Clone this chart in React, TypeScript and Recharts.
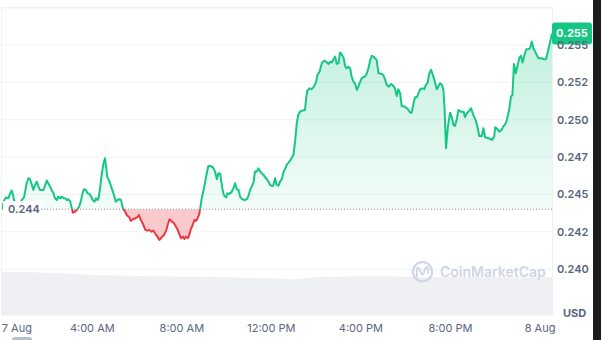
import {
  ComposedChart,
  Area,
  XAxis,
  YAxis,
  CartesianGrid,
  ReferenceLine,
  ReferenceDot,
} from 'recharts'

// minutes since 7 Aug 00:00
const minutes = [
  -2, 4, 9, 15, 20, 24, 27, 30, 37, 44,
  51, 57, 64, 69, 73, 78, 82, 87, 91, 96,
  100, 109, 114, 118, 122, 127, 131, 136, 140, 145,
  149, 154, 158, 163, 167, 172, 176, 181, 185, 188,
  194, 200, 205, 209, 215, 218, 223, 227, 232, 237,
  241, 246, 250, 254, 257, 261, 265, 270, 274, 277,
  280, 286, 292, 298, 303, 307, 313, 317, 322, 328,
  332, 339, 343, 349, 355, 361, 365, 370, 375, 382,
  388, 393, 399, 404, 408, 413, 420, 426, 432, 438,
  442, 447, 453, 459, 465, 469, 473, 478, 483, 487,
  491, 496, 500, 504, 509, 514, 518, 522, 526, 529,
  533, 540, 545, 551, 556, 563, 569, 574, 578, 583,
  585, 590, 594, 599, 602, 607, 614, 618, 623, 627,
  632, 636, 641, 648, 654, 658, 663, 667, 672, 676,
  681, 685, 690, 694, 699, 703, 708, 712, 716, 721,
  725, 730, 734, 739, 743, 748, 752, 757, 761, 766,
  770, 775, 779, 784, 788, 792, 797, 804, 810, 813,
  816, 822, 828, 834, 840, 843, 849, 855, 861, 867,
  873, 877, 882, 886, 891, 895, 900, 904, 909, 913,
  918, 922, 926, 931, 935, 940, 944, 949, 953, 958,
  962, 967, 971, 976, 980, 985, 989, 993, 998, 1002,
  1007, 1011, 1016, 1020, 1025, 1029, 1035, 1041, 1047, 1051,
  1056, 1060, 1065, 1069, 1078, 1086, 1092, 1096, 1101, 1105,
  1110, 1114, 1119, 1125, 1130, 1134, 1139, 1143, 1148, 1151,
  1157, 1163, 1168, 1172, 1177, 1181, 1184, 1188, 1193, 1199,
  1203, 1208, 1212, 1217, 1221, 1228, 1235, 1239, 1244, 1250,
  1255, 1261, 1268, 1273, 1277, 1284, 1288, 1293, 1302, 1311,
  1317, 1320, 1326, 1331, 1337, 1342, 1346, 1351, 1358, 1362,
  1366, 1370, 1375, 1379, 1385, 1389, 1393, 1398, 1403, 1409,
  1413, 1418, 1422, 1427, 1431, 1436, 1445, 1451, 1456, 1462,
  1467, 1472,
]

const prices = [
  0.24402, 0.24463, 0.24481, 0.24475, 0.24508, 0.24526, 0.24504, 0.24463, 0.2443, 0.2443,
  0.24463, 0.24481, 0.24575, 0.24609, 0.24602, 0.24564, 0.2453, 0.24564, 0.24586, 0.24552,
  0.2453, 0.2453, 0.24564, 0.24593, 0.24575, 0.24552, 0.2453, 0.24508, 0.24475, 0.24463,
  0.24486, 0.24475, 0.24486, 0.24475, 0.24475, 0.24463, 0.24468, 0.24452, 0.24408, 0.24378,
  0.24385, 0.24401, 0.24419, 0.24452, 0.24519, 0.24535, 0.2453, 0.24508, 0.24504, 0.24486,
  0.24463, 0.24452, 0.24475, 0.24463, 0.24475, 0.24544, 0.24631, 0.24709, 0.24742, 0.24686,
  0.24619, 0.24586, 0.24542, 0.24497, 0.24452, 0.24463, 0.24468, 0.24463, 0.24408, 0.24385,
  0.24363, 0.24348, 0.24323, 0.24334, 0.24341, 0.24348, 0.24363, 0.2433, 0.24308, 0.24263,
  0.24258, 0.24263, 0.24251, 0.24258, 0.24241, 0.24223, 0.24196, 0.24214, 0.24229, 0.24258,
  0.24296, 0.24334, 0.24318, 0.24308, 0.24281, 0.24263, 0.24236, 0.24207, 0.24218, 0.24203,
  0.24218, 0.24207, 0.24229, 0.24267, 0.24296, 0.2433, 0.24323, 0.24341, 0.24363, 0.24403,
  0.2447, 0.24552, 0.24619, 0.24691, 0.24691, 0.24682, 0.24653, 0.24602, 0.24642, 0.24637,
  0.24597, 0.24519, 0.2449, 0.24481, 0.24508, 0.24504, 0.24519, 0.24542, 0.24575, 0.24535,
  0.2453, 0.24486, 0.2447, 0.24463, 0.24468, 0.24486, 0.2453, 0.24552, 0.24579, 0.24653,
  0.24653, 0.24675, 0.24653, 0.24642, 0.24631, 0.24615, 0.24602, 0.24586, 0.24564, 0.24557,
  0.24559, 0.24609, 0.24564, 0.24559, 0.24586, 0.24602, 0.24646, 0.24675, 0.24698, 0.24713,
  0.24726, 0.24749, 0.24764, 0.24865, 0.24976, 0.25032, 0.25055, 0.25062, 0.25065, 0.25139,
  0.25192, 0.2521, 0.25204, 0.25221, 0.25255, 0.25299, 0.25321, 0.25378, 0.25395, 0.25388,
  0.25373, 0.25388, 0.25382, 0.25404, 0.25422, 0.25373, 0.25378, 0.2545, 0.25433, 0.25418,
  0.25355, 0.25344, 0.25355, 0.25344, 0.25288, 0.25255, 0.25244, 0.25199, 0.25221, 0.25255,
  0.25277, 0.25288, 0.25288, 0.25311, 0.25344, 0.254, 0.25427, 0.25423, 0.25411, 0.254,
  0.25311, 0.25309, 0.25306, 0.25299, 0.25266, 0.25233, 0.25221, 0.25239, 0.25226, 0.2521,
  0.25159, 0.25204, 0.25177, 0.25092, 0.25087, 0.2507, 0.25047, 0.25047, 0.2511, 0.2515,
  0.2515, 0.25177, 0.25204, 0.2521, 0.25204, 0.25233, 0.25248, 0.25311, 0.25333, 0.25311,
  0.25266, 0.25204, 0.25226, 0.25244, 0.25233, 0.25199, 0.25077, 0.24809, 0.24954, 0.25047,
  0.25021, 0.24965, 0.24958, 0.25003, 0.25065, 0.25054, 0.25054, 0.25017, 0.25043, 0.25061,
  0.25077, 0.25032, 0.24994, 0.24943, 0.24891, 0.24891, 0.24943, 0.24883, 0.24876, 0.24865,
  0.24887, 0.2495, 0.24936, 0.2492, 0.24932, 0.24958, 0.24965, 0.24998, 0.25077, 0.25154,
  0.25166, 0.25373, 0.25311, 0.25355, 0.25418, 0.25427, 0.25382, 0.25433, 0.25471, 0.25471,
  0.25478, 0.25522, 0.25478, 0.25455, 0.25433, 0.25411, 0.25411, 0.25404, 0.25404, 0.25467,
  0.25522, 0.25577,
]

// 24h volume (arbitrary units), hourly
const volMinutes = [
  -2, 60, 120, 180, 240, 300, 360, 420, 480, 540, 600, 660, 720,
  780, 840, 900, 960, 1020, 1080, 1140, 1200, 1260, 1320, 1380, 1440, 1472,
]
const volumes = [
  140, 140, 138, 135, 130, 129, 127, 126, 125, 125, 123, 120.5, 119.5,
  116, 124, 125, 126, 126, 125, 123, 123, 123, 123, 122, 122, 122,
]

const xTicks = [0, 240, 480, 720, 960, 1200, 1440]
const xTickLabels = ['7 Aug', '4:00 AM', '8:00 AM', '12:00 PM', '4:00 PM', '8:00 PM', '8 Aug']
const yTicks = [0.24, 0.2425, 0.245, 0.2475, 0.25, 0.2525, 0.255]
const yTickLabels = ['0.240', '0.242', '0.245', '0.247', '0.250', '0.252', '0.255']
const openPrice = 0.24402

const Y_MIN = 0.23694
const Y_MAX = 0.25747
const W = 601
const H = 340
const TOP = 8
const X_AXIS_H = 25
const PLOT_BOTTOM = H - X_AXIS_H

const GREEN = '#16c784'
const RED = '#ea3943'
const TEXT = '#58667e'
const FONT = 'Inter, "Noto Sans", sans-serif'

const priceData = minutes.map((t, i) => ({ t, price: prices[i] }))
const volumeData = volMinutes.map((t, i) => ({ t, vol: volumes[i] }))
const lastPoint = priceData[priceData.length - 1]
const split = (Y_MAX - openPrice) / (Y_MAX - Y_MIN)

const truncate3 = (v: number) => (Math.floor(v * 1000) / 1000).toFixed(3)

const XTick = (props: any) => {
  const { x, y, payload } = props
  const i = xTicks.indexOf(payload.value)
  const first = i === 0
  return (
    <text
      x={first ? x - 1 : x}
      y={y + 17}
      textAnchor={first ? 'start' : 'middle'}
      fill={TEXT}
      fontSize={11}
      fontFamily={FONT}
    >
      {xTickLabels[i]}
    </text>
  )
}

const renderBaseLabel = (props: any) => {
  const vb = props.viewBox || {}
  return (
    <g>
      <rect x={vb.x + 1} y={vb.y - 8} width={38} height={17} fill="#fff" />
      <text x={vb.x + 6} y={vb.y + 4} fill={TEXT} fontSize={11} fontWeight={600} fontFamily={FONT}>
        {openPrice.toFixed(3)}
      </text>
    </g>
  )
}

const PriceBadge = (props: any) => {
  const { cx, cy } = props
  return (
    <g>
      <rect x={cx} y={cy - 11} width={40} height={22} rx={3} fill={GREEN} />
      <text
        x={cx + 20}
        y={cy + 4}
        textAnchor="middle"
        fill="#fff"
        fontSize={11}
        fontWeight={700}
        fontFamily={FONT}
      >
        {truncate3(lastPoint.price)}
      </text>
    </g>
  )
}

export default function App() {
  return (
    <div
      style={{
        position: 'fixed',
        left: 0,
        top: 0,
        width: W,
        height: H,
        background: '#fff',
        overflow: 'hidden',
        fontFamily: FONT,
      }}
    >
      <div
        style={{
          position: 'absolute',
          left: 1,
          top: 7,
          width: 550,
          height: 308,
          borderTop: '1px solid #eff2f5',
          borderLeft: '1px solid #eff2f5',
          borderRight: '1px solid #eff2f5',
        }}
      />
      <div style={{ position: 'absolute', left: 0, top: 0 }}>
        <ComposedChart width={W} height={H} margin={{ top: TOP, right: 0, bottom: 0, left: 2 }}>
          <defs>
            <linearGradient id="lineGrad" gradientUnits="userSpaceOnUse" x1="0" y1={TOP} x2="0" y2={PLOT_BOTTOM}>
              <stop offset={split} stopColor={GREEN} />
              <stop offset={split} stopColor={RED} />
            </linearGradient>
            <linearGradient id="fillGrad" gradientUnits="userSpaceOnUse" x1="0" y1={TOP} x2="0" y2={PLOT_BOTTOM}>
              <stop offset={0} stopColor={GREEN} stopOpacity={0.3} />
              <stop offset={split} stopColor={GREEN} stopOpacity={0.05} />
              <stop offset={split} stopColor={RED} stopOpacity={0.27} />
              <stop offset={1} stopColor={RED} stopOpacity={0.27} />
            </linearGradient>
          </defs>
          <CartesianGrid yAxisId="price" vertical={false} stroke="#eff2f5" />
          <XAxis
            dataKey="t"
            type="number"
            domain={[-2, 1472]}
            ticks={xTicks}
            interval={0}
            height={X_AXIS_H}
            axisLine={false}
            tickLine={false}
            tickSize={0}
            tickMargin={0}
            tick={<XTick />}
            allowDataOverflow
          />
          <YAxis
            yAxisId="price"
            orientation="right"
            width={49}
            domain={[Y_MIN, Y_MAX]}
            ticks={yTicks}
            interval={0}
            allowDataOverflow
            axisLine={false}
            tickLine={false}
            tickSize={0}
            tickMargin={5}
            tick={{ fill: TEXT, fontSize: 11, fontWeight: 600, fontFamily: FONT }}
            tickFormatter={(v: number) => yTickLabels[yTicks.indexOf(v)] ?? String(v)}
          />
          <YAxis yAxisId="vol" hide domain={[0, 1000]} />
          <Area
            data={volumeData}
            yAxisId="vol"
            dataKey="vol"
            type="linear"
            stroke="none"
            fill="#eef0f4"
            fillOpacity={1}
            isAnimationActive={false}
          />
          <Area
            data={priceData}
            yAxisId="price"
            dataKey="price"
            type="linear"
            baseValue={openPrice}
            stroke="url(#lineGrad)"
            strokeWidth={2}
            strokeLinejoin="round"
            fill="url(#fillGrad)"
            fillOpacity={1}
            dot={false}
            activeDot={false}
            isAnimationActive={false}
          />
          <ReferenceLine
            yAxisId="price"
            y={openPrice}
            stroke="#8f98ab"
            strokeDasharray="1 2"
            label={renderBaseLabel}
          />
          <ReferenceDot
            yAxisId="price"
            x={lastPoint.t}
            y={lastPoint.price}
            r={0}
            ifOverflow="visible"
            shape={<PriceBadge />}
          />
        </ComposedChart>
      </div>
      <svg
        width={W}
        height={H}
        style={{ position: 'absolute', left: 0, top: 0, pointerEvents: 'none' }}
      >
        <circle cx={422.5} cy={271.7} r={9.6} fill="none" stroke="#cfd6e4" strokeWidth={2.2} />
        <path
          d="M416.8 276.5 L416.8 269.5 Q417.4 266.4 419.3 268.6 L421.6 274 Q422.6 275.8 423.6 273.6 L425.4 268.4 Q427 265.6 428.2 268.6 L428.2 273"
          fill="none"
          stroke="#cfd6e4"
          strokeWidth={2}
          strokeLinecap="round"
          strokeLinejoin="round"
        />
        <text x={440} y={276.8} fill="#cfd6e4" fontSize={14} fontWeight={600} fontFamily={FONT}>
          CoinMarketCap
        </text>
        <text x={563} y={317} fill={TEXT} fontSize={11} fontWeight={700} fontFamily={FONT}>
          USD
        </text>
      </svg>
      <div
        style={{
          position: 'absolute',
          left: 12,
          top: 337,
          width: 20,
          height: 6,
          borderRadius: 3,
          background: '#b9c0cc',
        }}
      />
      <div style={{ position: 'absolute', left: 593, top: 0, width: 8, height: H, background: '#1b1c1e' }} />
    </div>
  )
}
